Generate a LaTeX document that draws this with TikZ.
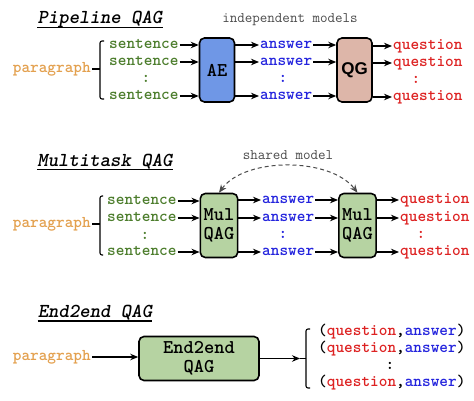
\documentclass[tikz,border=0pt]{standalone}
\usepackage{fontspec}
\newfontfamily\arialf{Liberation Sans}
\newcommand{\courf}{\ttfamily}
\usetikzlibrary{arrows.meta}
\definecolor{cpar}{HTML}{E3A04E}
\definecolor{csen}{HTML}{4C7D2C}
\definecolor{cans}{HTML}{2323DD}
\definecolor{cque}{HTML}{DD2222}
\definecolor{cae}{HTML}{6F97E6}
\definecolor{cqg}{HTML}{DDB6A9}
\definecolor{cgr}{HTML}{B6D3A2}
\definecolor{cnote}{HTML}{4A4A4A}
\begin{document}
\begin{tikzpicture}[x=1pt,y=-1pt,
 txt/.style={font=\courf\bfseries\fontsize{16.5}{18}\selectfont, inner sep=1pt, text height=9pt, text depth=2.3pt},
 par/.style={txt,text=cpar},
 sen/.style={txt,text=csen},
 ans/.style={txt,text=cans},
 que/.style={txt,text=cque},
 ttl/.style={font=\courf\bfseries\itshape\fontsize{19.8}{22}\selectfont, inner sep=0pt, text height=12pt, text depth=3.5pt},
 note/.style={font=\courf\fontsize{14.6}{16}\selectfont, text=cnote, inner sep=0pt},
 box/.style={draw=black, line width=1.6pt, rounded corners=5pt},
 boxtxt/.style={font=\courf\bfseries\fontsize{19.5}{22}\selectfont, align=center},
 arr/.style={-{Stealth[length=8pt,width=6.5pt]}, line width=1.1pt},
 brk/.style={line width=1.1pt, rounded corners=2pt},
 uline/.style={line width=1.1pt}]
\useasboundingbox (0,0) rectangle (474,401);

% ---------- Pipeline ----------
\node[ttl] (t1) at (100,19.5) {Pipeline QAG};
\draw[uline] (t1.south west) -- (t1.south east);
\node[note] (n1) at (290,20) {independent models};
\node[par, anchor=east] (p1) at (92,69) {paragraph};
\node[sen, anchor=west] (s11) at (108,45) {sentence};
\node[sen, anchor=west] (s12) at (108,62) {sentence};
\node[sen] (s13) at (146,79) {:};
\node[sen, anchor=west] (s14) at (108,96) {sentence};
\draw[brk] (104,41) -- (100,41) -- (100,99) -- (104,99);
\draw[line width=1.1pt] (p1.east) -- (100,69);
\node[box, fill=cae, minimum width=35pt, minimum height=64pt, boxtxt] (ae) at (217,70) {AE};
\node[ans, anchor=west] (a11) at (259,45) {answer};
\node[ans, anchor=west] (a12) at (259,62) {answer};
\node[ans] (a13) at (283,79) {:};
\node[ans, anchor=west] (a14) at (259,96) {answer};
\node[box, fill=cqg, minimum width=35pt, minimum height=64pt, font=\arialf\bfseries\fontsize{17}{20}\selectfont] (qg) at (354.5,70) {QG};
\node[que, anchor=west] (q11) at (392,46) {question};
\node[que, anchor=west] (q12) at (392,63) {question};
\node[que] (q13) at (416,80) {:};
\node[que, anchor=west] (q14) at (392,97) {question};
\foreach \s in {s11,s12,s14}{\draw[arr] (\s.east) -- (\s.east -| ae.west);}
\foreach \a in {a11,a12,a14}{\draw[arr] (ae.east |- \a) -- (\a.west);
  \draw[arr] (\a.east) -- (\a.east -| qg.west);}
\foreach \q in {q11,q12,q14}{\draw[arr] (qg.east |- \q) -- (\q.west);}

% ---------- Multitask ----------
\node[ttl] (t2) at (105,162) {Multitask QAG};
\draw[uline] (t2.south west) -- (t2.south east);
\node[note] (n2) at (288,155) {shared model};
\node[par, anchor=east] (p2) at (92,224) {paragraph};
\node[sen, anchor=west] (s21) at (106,201) {sentence};
\node[sen, anchor=west] (s22) at (106,218) {sentence};
\node[sen] (s23) at (145,236) {:};
\node[sen, anchor=west] (s24) at (106,252) {sentence};
\draw[brk] (103,196) -- (100,196) -- (100,255) -- (103,255);
\draw[line width=1.1pt] (p2.east) -- (100,224);
\node[box, fill=cgr, minimum width=37pt, minimum height=64pt, boxtxt] (m1) at (219,225.5) {Mul\\[-3pt]QAG};
\node[ans, anchor=west] (a21) at (261,200) {answer};
\node[ans, anchor=west] (a22) at (261,218) {answer};
\node[ans] (a23) at (283,235) {:};
\node[ans, anchor=west] (a24) at (261,252) {answer};
\node[box, fill=cgr, minimum width=37pt, minimum height=64pt, boxtxt] (m2) at (357.5,225.5) {Mul\\[-3pt]QAG};
\node[que, anchor=west] (q21) at (399,200) {question};
\node[que, anchor=west] (q22) at (399,218) {question};
\node[que] (q23) at (421,235) {:};
\node[que, anchor=west] (q24) at (399,252) {question};
\foreach \s in {s21,s22,s24}{\draw[arr] (\s.east) -- (\s.east -| m1.west);}
\foreach \a in {a21,a22,a24}{\draw[arr] (m1.east |- \a) -- (\a.west);
  \draw[arr] (\a.east) -- (\a.east -| m2.west);}
\foreach \q in {q21,q22,q24}{\draw[arr] (m2.east |- \q) -- (\q.west);}
\draw[cnote, dash pattern=on 4pt off 3pt, line width=1pt, {Stealth[length=8pt,width=6.5pt]}-{Stealth[length=8pt,width=6.5pt]}]
  (m1.north) .. controls (245,157) and (330,157) .. (m2.north);

% ---------- End2end ----------
\node[ttl] (t3) at (95,313) {End2end QAG};
\draw[uline] (t3.south west) -- (t3.south east);
\node[par, anchor=east] (p3) at (92,357) {paragraph};
\node[box, fill=cgr, minimum width=120pt, minimum height=44pt, boxtxt] (e) at (199,358.5) {End2end\\[-3pt]QAG};
\draw[arr] (p3.east) -- (e.west |- p3);
\coordinate (bk) at (300,358.5);
\draw[arr] (e.east) -- (bk);
\draw[brk] (310,329) -- (306,329) -- (306,388) -- (310,388);
\draw[line width=1.1pt] (bk) -- (306,358.5);
\node[txt, anchor=west] (r1) at (317,332) {(\textcolor{cque}{question},\textcolor{cans}{answer})};
\node[txt, anchor=west] (r2) at (317,349) {(\textcolor{cque}{question},\textcolor{cans}{answer})};
\node[txt] (r3) at (390,366) {:};
\node[txt, anchor=west] (r4) at (317,383) {(\textcolor{cque}{question},\textcolor{cans}{answer})};
\end{tikzpicture}
\end{document}
